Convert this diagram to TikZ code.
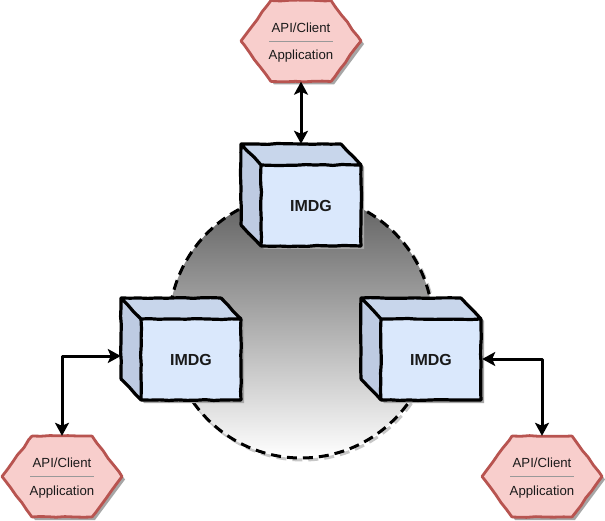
\documentclass[tikz,border=0pt]{standalone}
\usepackage{fontspec}
\setmainfont{Liberation Sans}
\usetikzlibrary{arrows.meta,calc,decorations.pathmorphing}
\definecolor{hexfill}{HTML}{F8CECC}
\definecolor{hexline}{HTML}{B85450}
\definecolor{frontfill}{HTML}{DAE8FC}
\definecolor{topfill}{HTML}{C8D6EB}
\definecolor{sidefill}{HTML}{BECBE2}
\definecolor{inktext}{HTML}{1A1A1A}
\definecolor{diskdark}{HTML}{5E5E5E}
\tikzset{
  wob/.style={decoration={random steps,segment length=9pt,amplitude=.5pt}},
  hexedge/.style={wob,draw=hexline,line width=2.8pt,line join=round,line cap=round},
  cubeedge/.style={wob,draw=black,line width=3.2pt,line join=round,line cap=round},
  shadowfill/.style={fill=black!35,draw=none},
  apptext/.style={font=\fontsize{13.2}{15}\selectfont,text=inktext,inner sep=0pt},
  cubetext/.style={font=\fontsize{16}{18}\selectfont\bfseries,text=inktext,inner sep=0pt},
  link/.style={draw=black,line width=3pt,line join=round,
    {Stealth[length=13pt,width=14pt,inset=3pt]}-{Stealth[length=13pt,width=14pt,inset=3pt]}},
}
\newcommand{\apphex}[3]{%
\begin{scope}[shift={(#2,#3)}]
  \fill[shadowfill] (-57,3)--(-27,-37.5)--(33,-37.5)--(63,3)--(33,43.5)--(-27,43.5)--cycle;
  \fill[hexfill] (-60,0)--(-30,-40.5)--(30,-40.5)--(60,0)--(30,40.5)--(-30,40.5)--cycle;
  \path[hexedge] decorate{(-60,0)--(-30,-40.5)} decorate{(-30,-40.5)--(30,-40.5)} decorate{(30,-40.5)--(60,0)}
     decorate{(60,0)--(30,40.5)} decorate{(30,40.5)--(-30,40.5)} decorate{(-30,40.5)--(-60,0)};
  \draw[black!40,line width=.6pt] (-32,0)--(32,0);
  \node[minimum width=120pt,minimum height=81pt,inner sep=0pt] (#1) at (0,0) {};
  \node[apptext] (#1a) at (0,-13.5) {API/Client};
  \node[apptext] (#1b) at (0,15.5) {Application};
\end{scope}}
\newcommand{\imdgcube}[3]{%
\begin{scope}[shift={(#2,#3)}]
  \fill[shadowfill] (-57,-48)--(43,-48)--(63,-28)--(63,54)--(-37,54)--(-57,34)--cycle;
  \fill[frontfill] (-40,-30)--(60,-30)--(60,51)--(-40,51)--cycle;
  \fill[topfill] (-60,-51)--(40,-51)--(60,-30)--(-40,-30)--cycle;
  \fill[sidefill] (-60,-51)--(-40,-30)--(-40,51)--(-60,30)--cycle;
  \path[cubeedge] decorate{(-60,-51)--(40,-51)} decorate{(40,-51)--(60,-30)} decorate{(60,-30)--(60,51)}
     decorate{(60,51)--(-40,51)} decorate{(-40,51)--(-60,30)} decorate{(-60,30)--(-60,-51)}
     decorate{(-60,-51)--(-40,-30)} decorate{(-40,-30)--(60,-30)} decorate{(-40,-30)--(-40,51)};
  \node[minimum width=120pt,minimum height=102pt,inner sep=0pt] (#1) at (0,0) {};
  \node[cubetext] (#1t) at (10,11) {IMDG};
\end{scope}}
\begin{document}
\begin{tikzpicture}[x=1pt,y=-1pt]
\useasboundingbox (0,0) rectangle (605,521);
\fill[white] (0,0) rectangle (605,521);
% shared disk
\draw[black!22,line width=3pt,dash pattern=on 10pt off 6pt] (303,328) circle[radius=132];
\node[circle,minimum size=264pt,inner sep=0pt,shading=axis,top color=diskdark,bottom color=white,
      draw=black,line width=3pt,dash pattern=on 10pt off 6pt] (disk) at (301,326) {};
\imdgcube{cubetop}{301}{195}
\imdgcube{cubeleft}{181}{349}
\imdgcube{cuberight}{421}{349}
\apphex{apptop}{301}{41}
\apphex{appleft}{62}{476.5}
\apphex{appright}{542}{476.5}
\draw[link] (apptop.south) -- (cubetop.north);
\draw[link] (appleft.north) |- ($(cubeleft.west)+(0,7)$);
\draw[link] ($(cuberight.east)+(1,10)$) -| (appright.north);
\end{tikzpicture}
\end{document}
